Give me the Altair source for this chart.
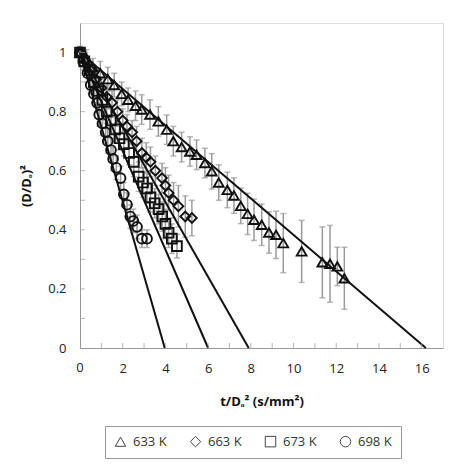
import altair as alt
import pandas as pd

series_names = ["633 K", "663 K", "673 K", "698 K"]
shapes = ["triangle-up", "diamond", "square", "circle"]

# 633 K (triangles)
x633 = [0.0, 0.3, 0.6, 0.95, 1.3, 1.6, 1.95, 2.25, 2.6, 2.89, 3.28, 3.67, 4.06, 4.37, 4.76,
        5.15, 5.46, 5.85, 6.17, 6.5, 6.9, 7.21, 7.53, 7.85, 8.15, 8.51, 8.85, 9.18, 9.52,
        10.38, 11.35, 11.71, 12.05, 12.38]
y633 = [1.0, 0.98, 0.95, 0.93, 0.91, 0.89, 0.86, 0.84, 0.82, 0.807, 0.79, 0.767, 0.739, 0.70,
        0.68, 0.665, 0.654, 0.626, 0.598, 0.56, 0.535, 0.516, 0.481, 0.454, 0.434, 0.417,
        0.391, 0.383, 0.355, 0.327, 0.29, 0.285, 0.276, 0.236]
e633 = [0.02, 0.03, 0.03, 0.04, 0.04, 0.04, 0.04, 0.04, 0.05, 0.05, 0.05, 0.05, 0.05, 0.05,
        0.05, 0.05, 0.05, 0.05, 0.06, 0.06, 0.06, 0.06, 0.06, 0.07, 0.07, 0.07, 0.07, 0.08,
        0.10, 0.105, 0.12, 0.13, 0.065, 0.105]

# 663 K (diamonds)
x663 = [0.0, 0.25, 0.5, 0.75, 1.0, 1.25, 1.5, 1.75, 2.0, 2.2, 2.44, 2.65, 2.9, 3.1, 3.3,
        3.53, 3.84, 4.0, 4.15, 4.38, 4.61, 4.93, 5.24]
y663 = [1.0, 0.97, 0.94, 0.91, 0.88, 0.85, 0.83, 0.80, 0.77, 0.75, 0.73, 0.70, 0.66, 0.645,
        0.63, 0.60, 0.575, 0.55, 0.525, 0.50, 0.48, 0.445, 0.44]
e663 = [0.02, 0.03, 0.03, 0.03, 0.03, 0.04, 0.04, 0.04, 0.04, 0.04, 0.04, 0.05, 0.05, 0.05,
        0.05, 0.05, 0.05, 0.06, 0.06, 0.06, 0.07, 0.07, 0.06]

# 673 K (squares)
x673 = [0.0, 0.2, 0.45, 0.65, 0.85, 1.05, 1.25, 1.45, 1.65, 1.85, 2.05, 2.3, 2.52, 2.75,
        2.95, 3.14, 3.3, 3.5, 3.68, 3.85, 4.0, 4.15, 4.3, 4.54]
y673 = [1.0, 0.97, 0.94, 0.90, 0.87, 0.84, 0.80, 0.77, 0.74, 0.71, 0.69, 0.66, 0.63, 0.58,
        0.56, 0.54, 0.51, 0.49, 0.47, 0.445, 0.42, 0.39, 0.37, 0.345]
e673 = [0.02, 0.03, 0.03, 0.03, 0.03, 0.04, 0.04, 0.04, 0.04, 0.04, 0.04, 0.04, 0.05, 0.05,
        0.05, 0.05, 0.05, 0.05, 0.05, 0.05, 0.05, 0.05, 0.05, 0.04]

# 698 K (circles)
x698 = [0.0, 0.15, 0.35, 0.5, 0.65, 0.8, 0.9, 1.05, 1.2, 1.3, 1.45, 1.55, 1.7, 1.9, 2.05,
        2.2, 2.36, 2.5, 2.67, 2.9, 3.14]
y698 = [1.0, 0.97, 0.93, 0.89, 0.86, 0.83, 0.79, 0.76, 0.73, 0.70, 0.67, 0.64, 0.61, 0.575,
        0.52, 0.485, 0.445, 0.43, 0.41, 0.37, 0.37]
e698 = [0.02, 0.03, 0.03, 0.03, 0.03, 0.03, 0.04, 0.04, 0.04, 0.04, 0.04, 0.04, 0.04, 0.04,
        0.04, 0.04, 0.04, 0.04, 0.04, 0.03, 0.03]

# linear fits: start (0, 1) and x-intercept
fit_start = [1.0, 1.0, 1.0, 1.0]
fit_end = [16.2, 7.9, 6.0, 3.97]

x_tick_labels = [0, 2, 4, 6, 8, 10, 12, 14, 16]
y_tick_labels = [0, 0.2, 0.4, 0.6, 0.8, 1.0]
x_minor = list(range(1, 17))
y_minor = [0.1, 0.2, 0.3, 0.4, 0.5, 0.6, 0.7, 0.8, 0.9, 1.0]

rows = []
for name, xs, ys, es in zip(series_names, [x633, x663, x673, x698],
                            [y633, y663, y673, y698], [e633, e663, e673, e698]):
    for x, y, e in zip(xs, ys, es):
        rows.append({"series": name, "t": x, "d": y, "lo": y - e, "hi": y + e})
df = pd.DataFrame(rows)

fit_rows = []
for name, s, e in zip(series_names, fit_start, fit_end):
    fit_rows.append({"series": name, "t": 0.0, "d": s})
    fit_rows.append({"series": name, "t": e, "d": 0.0})
fit_df = pd.DataFrame(fit_rows)

xt_df = pd.DataFrame({"t": x_minor, "d": [0.0] * len(x_minor)})
yt_df = pd.DataFrame({"d": y_minor, "t": [0.0] * len(y_minor)})
zero_df = pd.DataFrame({"t": [0.0], "d": [0.0], "lab": ["0"]})

FONT = "Open Sans"
W, H = 363, 325

xscale = alt.Scale(domain=[0, 17], nice=False, zero=False)
yscale = alt.Scale(domain=[0, 1.1], nice=False, zero=False)

xaxis = alt.Axis(values=x_tick_labels, ticks=False, grid=False, title="t/Dₒ² (s/mm²)",
                 labelExpr="datum.value == 0 ? '' : format(datum.value, 'd')",
                 labelPadding=14, titlePadding=20, domainColor="#999999",
                 labelFontSize=13, labelColor="#222222", titleFontSize=13,
                 titleFontWeight="bold", titleColor="#111111", labelFont=FONT, titleFont=FONT)
yaxis = alt.Axis(values=y_tick_labels, ticks=False, grid=False, title="(D/Dₒ)²",
                 labelExpr="format(datum.value, '.1~f')",
                 labelPadding=14, titlePadding=14, domainColor="#999999",
                 labelFontSize=13, labelColor="#222222", titleFontSize=13,
                 titleFontWeight="bold", titleColor="#111111", labelFont=FONT, titleFont=FONT)

X = alt.X("t:Q", scale=xscale, axis=xaxis)
Y = alt.Y("d:Q", scale=yscale, axis=yaxis)

BAR = "#9a9a9a"
errbars = alt.Chart(df).mark_rule(color=BAR, strokeWidth=1.5).encode(
    x=X, y=alt.Y("lo:Q", scale=yscale, axis=yaxis), y2="hi:Q")
caps_lo = alt.Chart(df).mark_tick(color=BAR, thickness=1.5, size=6, orient="horizontal").encode(
    x=X, y=alt.Y("lo:Q", scale=yscale, axis=yaxis))
caps_hi = alt.Chart(df).mark_tick(color=BAR, thickness=1.5, size=6, orient="horizontal").encode(
    x=X, y=alt.Y("hi:Q", scale=yscale, axis=yaxis))

lines = alt.Chart(fit_df).mark_line(color="#111111", strokeWidth=2).encode(
    x=X, y=Y, detail="series:N")

points = alt.Chart(df).mark_point(filled=False, stroke="#111111", strokeWidth=1.9, size=95, opacity=1).encode(
    x=X, y=Y,
    shape=alt.Shape("series:N",
                    scale=alt.Scale(domain=series_names, range=shapes),
                    legend=alt.Legend(title=None, orient="none", legendX=25, legendY=403,
                                      direction="horizontal", strokeColor="#999999",
                                      fillColor="white", padding=9, columnPadding=21,
                                      labelFontSize=13, labelFont=FONT, labelColor="#333333",
                                      symbolSize=110, symbolStrokeColor="#444444",
                                      symbolStrokeWidth=1, symbolFillColor="transparent",
                                      labelOffset=6)))

xticks = alt.Chart(xt_df).mark_tick(color="#999999", thickness=1, size=5, orient="vertical",
                                    yOffset=-2.5).encode(x=X, y=Y)
yticks = alt.Chart(yt_df).mark_tick(color="#999999", thickness=1, size=5, orient="horizontal",
                                    xOffset=2.5).encode(x=X, y=Y)

zero_label = alt.Chart(zero_df).mark_text(font=FONT, fontSize=13, color="#222222",
                                          baseline="top", dy=14, clip=False).encode(
    x=X, y=Y, text="lab:N")

chart = alt.layer(errbars, caps_lo, caps_hi, lines, points, xticks, yticks, zero_label).properties(
    width=W, height=H,
    autosize=alt.AutoSizeParams(type="none"),
    padding={"left": 72, "top": 15, "right": 9, "bottom": 116},
).configure_view(stroke="#999999", strokeWidth=1).configure(background="white")

chart.save("out.html", embed_options={"renderer": "svg", "actions": False})
